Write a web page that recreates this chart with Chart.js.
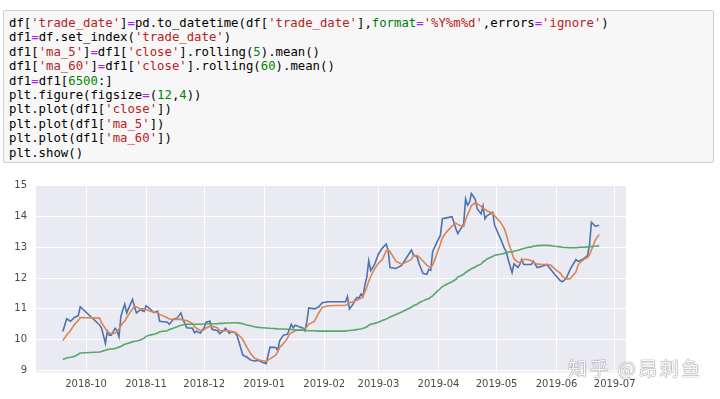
<!DOCTYPE html>
<html>
<head>
<meta charset="utf-8">
<script src="https://cdn.jsdelivr.net/npm/chart.js@4"></script>
<style>
  html, body { margin: 0; padding: 0; background: #fff; }
  body { width: 720px; height: 399px; position: relative; overflow: hidden; }
  .cell {
    position: absolute; left: 3px; top: 10px; width: 699px; height: 142px;
    padding: 5px 5px 4px 5px;
    background: #f7f7f7; border: 1px solid #cfcfcf; border-radius: 2px;
    font-family: 'DejaVu Sans Mono', monospace; font-size: 12.3px; line-height: 14.4px;
    color: #000; white-space: pre;
  }
  .s { color: #ba2121; }
  .o { color: #aa22ff; }
  .n { color: #008800; }
  .b { color: #008000; }
  #wrap { position: absolute; left: 0; top: 170px; width: 720px; height: 229px; }
  .mark {
    position: absolute; left: 568px; top: 354px;
    font-family: 'Noto Sans CJK SC', sans-serif; font-size: 19px; letter-spacing: 2.5px;
    color: rgba(255,255,255,0.95);
    text-shadow: 0 0 1px #777, 0 0 1px #777;
  }
</style>
</head>
<body>
<div class="cell">df[<span class="s">'trade_date'</span>]<span class="o">=</span>pd.to_datetime(df[<span class="s">'trade_date'</span>],<span class="b">format</span><span class="o">=</span><span class="s">'%Y%m%d'</span>,errors<span class="o">=</span><span class="s">'ignore'</span>)
df1<span class="o">=</span>df.set_index(<span class="s">'trade_date'</span>)
df1[<span class="s">'ma_5'</span>]<span class="o">=</span>df1[<span class="s">'close'</span>].rolling(<span class="n">5</span>).mean()
df1[<span class="s">'ma_60'</span>]<span class="o">=</span>df1[<span class="s">'close'</span>].rolling(<span class="n">60</span>).mean()
df1<span class="o">=</span>df1[<span class="n">6500</span>:]
plt.figure(figsize<span class="o">=</span>(<span class="n">12</span>,<span class="n">4</span>))
plt.plot(df1[<span class="s">'close'</span>])
plt.plot(df1[<span class="s">'ma_5'</span>])
plt.plot(df1[<span class="s">'ma_60'</span>])
plt.show()</div>
<div id="wrap"><canvas id="chart" width="720" height="229"></canvas></div>
<div class="mark">知乎 @昂刺鱼</div>
<script>
// ── data ─────────────────────────────────────────────────────────────────────

const dates = [
  '2018-09-19','2018-09-21','2018-09-23','2018-09-25','2018-09-27','2018-09-28',
  '2018-10-08','2018-10-09','2018-10-11','2018-10-12','2018-10-13','2018-10-14',
  '2018-10-16','2018-10-17','2018-10-18','2018-10-19','2018-10-20','2018-10-21',
  '2018-10-22','2018-10-25','2018-10-26','2018-10-27','2018-10-29','2018-10-31',
  '2018-11-01','2018-11-03','2018-11-05','2018-11-07','2018-11-08','2018-11-12',
  '2018-11-13','2018-11-15','2018-11-17','2018-11-19','2018-11-20','2018-11-22',
  '2018-11-25','2018-11-26','2018-11-27','2018-11-29','2018-12-01','2018-12-02',
  '2018-12-04','2018-12-05','2018-12-08','2018-12-09','2018-12-11','2018-12-12',
  '2018-12-14','2018-12-15','2018-12-17','2018-12-18','2018-12-20','2018-12-21',
  '2018-12-23','2018-12-25','2018-12-27','2018-12-29','2018-12-31','2019-01-02',
  '2019-01-04','2019-01-07','2019-01-08','2019-01-09','2019-01-11','2019-01-13',
  '2019-01-14','2019-01-15','2019-01-16','2019-01-17','2019-01-19','2019-01-21',
  '2019-01-22','2019-01-23','2019-01-24','2019-01-27','2019-01-29','2019-01-31',
  '2019-02-03','2019-02-12','2019-02-13','2019-02-14','2019-02-16','2019-02-17',
  '2019-02-18','2019-02-19','2019-02-20','2019-02-21','2019-02-22','2019-02-23',
  '2019-02-24','2019-02-25','2019-02-27','2019-03-01','2019-03-03','2019-03-05',
  '2019-03-06','2019-03-07','2019-03-10','2019-03-13','2019-03-18','2019-03-19',
  '2019-03-21','2019-03-22','2019-03-24','2019-03-26','2019-03-27','2019-03-28',
  '2019-03-29','2019-03-31','2019-04-02','2019-04-03','2019-04-05','2019-04-08',
  '2019-04-10','2019-04-11','2019-04-13','2019-04-14','2019-04-15','2019-04-16',
  '2019-04-17','2019-04-18','2019-04-20','2019-04-21','2019-04-23','2019-04-24',
  '2019-04-25','2019-04-26','2019-04-29','2019-04-30','2019-05-03','2019-05-05',
  '2019-05-06','2019-05-07','2019-05-09','2019-05-10','2019-05-12','2019-05-13',
  '2019-05-14','2019-05-15','2019-05-17','2019-05-19','2019-05-20','2019-05-21',
  '2019-05-22','2019-05-25','2019-05-27','2019-05-29','2019-05-31','2019-06-03',
  '2019-06-04','2019-06-06','2019-06-08','2019-06-11','2019-06-12','2019-06-13',
  '2019-06-15','2019-06-17','2019-06-18','2019-06-19','2019-06-21','2019-06-23'
];

const closeValues = [
  10.27,10.68,10.60,10.72,10.78,11.07,
  10.48,10.38,9.88,10.28,10.15,10.15,
  10.37,10.30,10.10,10.76,10.97,11.15,
  10.87,11.31,11.08,10.87,10.97,10.92,
  11.10,11.00,10.88,10.92,10.60,10.57,
  10.50,10.66,10.70,10.87,10.66,10.39,
  10.37,10.23,10.28,10.21,10.39,10.57,
  10.60,10.34,10.29,10.20,10.29,10.37,
  10.21,10.26,10.23,10.13,9.71,9.50,
  9.44,9.34,9.31,9.33,9.27,9.22,
  9.76,9.75,9.65,9.97,10.15,10.18,
  10.34,10.50,10.39,10.47,10.42,10.38,
  10.29,10.57,11.03,11.00,11.06,11.20,
  11.23,11.23,11.40,11.00,11.16,11.30,
  11.37,11.35,11.48,11.40,11.77,12.03,
  12.56,12.24,12.44,12.78,12.97,13.10,
  12.90,12.34,12.31,12.41,12.91,12.76,
  12.68,12.46,12.15,12.12,12.28,12.25,
  12.86,13.13,13.39,13.92,13.95,13.99,
  13.60,13.44,13.65,13.75,14.57,14.36,
  14.45,14.74,14.55,14.25,14.08,14.34,
  13.92,14.02,14.13,13.71,13.28,12.97,
  12.86,12.60,12.18,12.46,12.34,12.44,
  12.60,12.44,12.44,12.44,12.54,12.44,
  12.34,12.39,12.44,12.28,12.12,11.91,
  11.88,11.99,12.28,12.60,12.54,12.56,
  12.63,12.73,13.07,13.81,13.68,13.71
];

const ma5Values = [
  9.97,10.15,10.30,10.50,10.62,10.72,
  10.70,10.55,10.36,10.27,10.22,10.20,
  10.22,10.26,10.35,10.45,10.55,10.60,
  10.72,11.00,11.08,11.06,11.00,11.00,
  10.98,10.92,10.90,10.87,10.82,10.71,
  10.67,10.66,10.66,10.66,10.64,10.62,
  10.52,10.42,10.37,10.30,10.32,10.38,
  10.44,10.44,10.38,10.30,10.29,10.29,
  10.29,10.27,10.24,10.20,10.08,10.00,
  9.76,9.55,9.40,9.35,9.32,9.30,
  9.38,9.50,9.62,9.75,9.88,10.05,
  10.18,10.22,10.26,10.29,10.32,10.34,
  10.36,10.42,10.50,10.60,10.85,11.05,
  11.10,11.12,11.15,11.20,11.23,11.26,
  11.29,11.32,11.34,11.40,11.55,11.70,
  11.90,12.05,12.30,12.48,12.60,12.88,
  12.92,12.85,12.55,12.44,12.60,12.72,
  12.73,12.68,12.55,12.42,12.37,12.34,
  12.42,12.75,13.10,13.30,13.48,13.68,
  13.78,13.74,13.68,13.67,13.90,14.05,
  14.18,14.35,14.44,14.41,14.33,14.26,
  14.23,14.18,14.10,14.02,13.81,13.60,
  13.42,13.18,12.80,12.62,12.52,12.50,
  12.56,12.60,12.60,12.56,12.50,12.48,
  12.45,12.44,12.44,12.42,12.30,12.15,
  12.05,11.97,11.98,12.20,12.40,12.50,
  12.60,12.66,12.75,12.91,13.23,13.41
];

const ma60Values = [
  9.36,9.41,9.43,9.46,9.53,9.57,
  9.60,9.62,9.66,9.68,9.69,9.70,
  9.71,9.74,9.76,9.78,9.82,9.85,
  9.87,9.93,9.95,9.96,9.99,10.05,
  10.11,10.15,10.18,10.22,10.26,10.29,
  10.33,10.37,10.42,10.47,10.48,10.50,
  10.50,10.50,10.50,10.50,10.51,10.51,
  10.52,10.52,10.52,10.53,10.53,10.54,
  10.54,10.55,10.55,10.55,10.53,10.52,
  10.48,10.45,10.42,10.40,10.39,10.38,
  10.37,10.36,10.35,10.35,10.35,10.34,
  10.34,10.33,10.33,10.32,10.31,10.31,
  10.30,10.30,10.29,10.29,10.28,10.28,
  10.28,10.28,10.29,10.30,10.31,10.32,
  10.33,10.34,10.35,10.37,10.39,10.42,
  10.47,10.50,10.53,10.57,10.62,10.67,
  10.70,10.74,10.82,10.90,11.05,11.10,
  11.15,11.20,11.26,11.31,11.33,11.38,
  11.42,11.55,11.66,11.72,11.79,11.88,
  11.96,12.03,12.09,12.12,12.18,12.22,
  12.26,12.30,12.36,12.40,12.45,12.53,
  12.56,12.62,12.70,12.74,12.77,12.80,
  12.82,12.84,12.85,12.87,12.90,12.92,
  12.94,12.96,12.99,13.01,13.03,13.04,
  13.05,13.06,13.06,13.05,13.03,13.01,
  13.00,12.99,12.98,12.98,12.99,13.00,
  13.00,13.01,13.01,13.02,13.03,13.05
];

const yTicks = [9, 10, 11, 12, 13, 14, 15];
const monthTicks = ['2018-10','2018-11','2018-12','2019-01','2019-02',
                    '2019-03','2019-04','2019-05','2019-06','2019-07'];

// ── helpers ───────────────────────────────────────────────────────────────────

const DAY = 86400000;
function toDay(s) {
  const [y, m, d] = s.split('-').map(Number);
  return Date.UTC(y, m - 1, d || 1) / DAY;
}

const xs = dates.map(toDay);
const series = vals => vals.map((v, i) => ({ x: xs[i], y: v }));

// matplotlib-style 5% margins
const xLo = Math.min(...xs), xHi = Math.max(...xs);
const allY = closeValues.concat(ma5Values, ma60Values);
const yLo = Math.min(...allY), yHi = Math.max(...allY);
const xPad = (xHi - xLo) * 0.05, yPad = (yHi - yLo) * 0.05;

const monthLabel = {};
monthTicks.forEach(m => { monthLabel[toDay(m)] = m; });

const plotBg = {
  id: 'plotBg',
  beforeDraw(chart) {
    const { ctx, chartArea: a } = chart;
    ctx.save();
    ctx.fillStyle = '#eaeaf2';
    ctx.fillRect(a.left, a.top, a.right - a.left, a.bottom - a.top);
    ctx.restore();
  }
};

const tickFont = { family: "'DejaVu Sans', sans-serif", size: 10 };

new Chart(document.getElementById('chart'), {
  type: 'line',
  data: {
    datasets: [
      { label: 'close', data: series(closeValues), borderColor: '#4c72b0', order: 3 },
      { label: 'ma_5', data: series(ma5Values), borderColor: '#dd8452', order: 2 },
      { label: 'ma_60', data: series(ma60Values), borderColor: '#55a868', order: 1 },
    ]
  },
  options: {
    responsive: false,
    animation: false,
    parsing: false,
    elements: {
      line: { borderWidth: 1.6, tension: 0, fill: false },
      point: { radius: 0 },
    },
    layout: { padding: { left: 0, top: 11.7, right: 94, bottom: 0 } },
    plugins: { legend: { display: false }, tooltip: { enabled: false } },
    scales: {
      x: {
        type: 'linear',
        min: xLo - xPad,
        max: xHi + xPad,
        afterBuildTicks: scale => { scale.ticks = monthTicks.map(m => ({ value: toDay(m) })); },
        afterFit: scale => { scale.height = 26.7; },
        ticks: { color: '#4a4a4a', font: tickFont, padding: 6, maxRotation: 0, autoSkip: false,
                 callback: v => monthLabel[v] || '' },
        grid: { color: '#ffffff', lineWidth: 1, drawTicks: false },
        border: { display: false },
      },
      y: {
        min: yLo - yPad,
        max: yHi + yPad,
        afterBuildTicks: scale => { scale.ticks = yTicks.map(v => ({ value: v })); },
        afterFit: scale => { scale.width = 36; },
        ticks: { color: '#4a4a4a', font: tickFont, padding: 9 },
        grid: { color: '#ffffff', lineWidth: 1, drawTicks: false },
        border: { display: false },
      },
    },
  },
  plugins: [plotBg],
});
</script>
</body>
</html>
